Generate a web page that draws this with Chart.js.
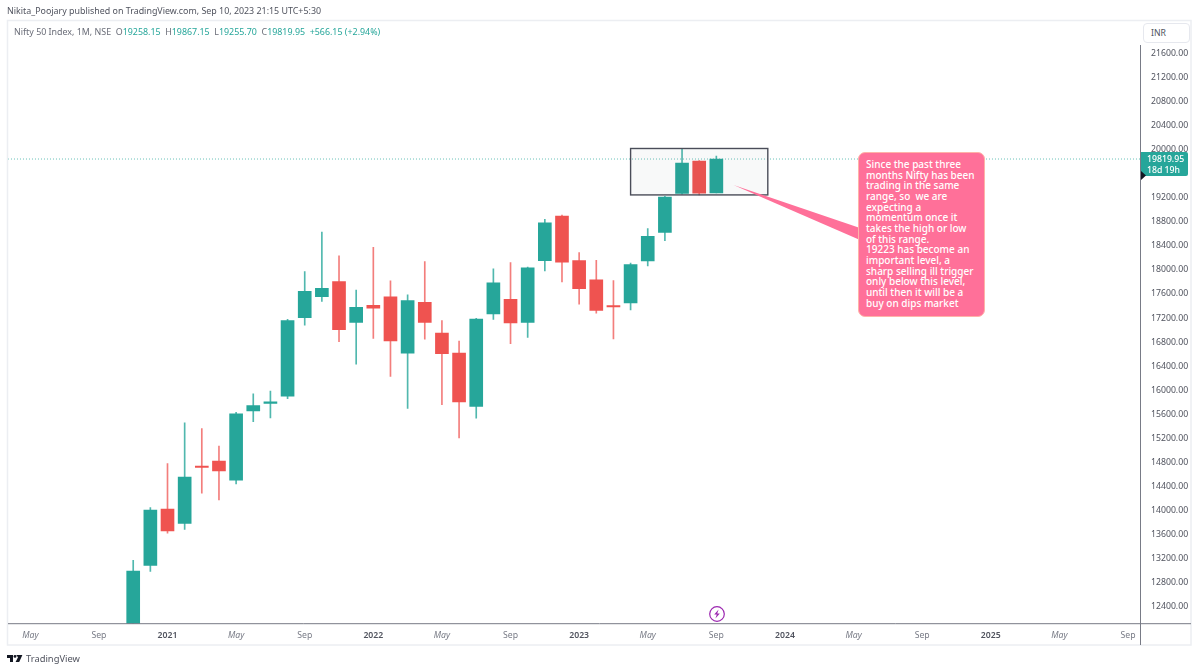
<!DOCTYPE html>
<html>
<head>
<meta charset="utf-8">
<title>Nifty 50 Index, 1M, NSE</title>
<script src="https://cdn.jsdelivr.net/npm/chart.js@4"></script>
<style>
    html, body { margin: 0; padding: 0; background: #fff; width: 1200px; height: 672px; overflow: hidden; }
    body { position: relative; font-family: "Noto Sans", sans-serif; }
    canvas { position: absolute; left: 0; top: 0; }
    .txt { position: absolute; white-space: pre; }
    #published { left: 7px; top: 4px; font-size: 8.9px; line-height: 14px; color: #50535e; }
    #legend { left: 14px; top: 25px; font-size: 8.9px; line-height: 14px; color: #6a6d78; }
    #legend b { font-weight: normal; color: #26a69a; }
    #inr { left: 1143px; top: 23px; width: 45px; height: 18px; border: 1px solid #e6e8ee; border-radius: 4px; background: #fff;
           font-size: 8.7px; line-height: 18px; color: #50535e; text-indent: 7px; }
    #price { left: 1141px; top: 152px; width: 47px; height: 24px; background: #26a69a; color: #fff; border-radius: 0 2px 2px 0; }
    #price div { position: absolute; left: 6px; font-size: 8.7px; line-height: 12px; font-weight: 500; }
    #note { left: 858px; top: 152px; width: 125px; height: 163px; padding: 0; background: #ff7099; border: 1px solid #ffb3a8; border-radius: 7px; }
    #note div { position: absolute; left: 7px; top: 6px; color: #fff; font-size: 10px; line-height: 10.67px; font-weight: 500; }
    #brand { left: 26px; top: 652px; font-size: 9.4px; line-height: 14px; color: #50535e; }
    svg { position: absolute; }
</style>
</head>
<body>
<canvas id="chart" width="1200" height="672"></canvas>
<div class="txt" id="published">Nikita_Poojary published on TradingView.com, Sep 10, 2023 21:15 UTC+5:30</div>
<div class="txt" id="legend">Nifty 50 Index, 1M, NSE  O<b>19258.15</b>  H<b>19867.15</b>  L<b>19255.70</b>  C<b>19819.95</b>  <b>+566.15 (+2.94%)</b></div>
<div class="txt" id="inr">INR</div>
<div class="txt" id="price"><div style="top:1px">19819.95</div><div style="top:12px">18d 19h</div></div>
<svg style="left:1141px;top:171px" width="6" height="9"><path d="M0 0L5 4.5L0 9Z" fill="#131722"/></svg>
<div class="txt" id="note"><div>Since the past three
months Nifty has been
trading in the same
range, so  we are
expecting a
momentum once it
takes the high or low
of this range.
19223 has become an
important level, a
sharp selling ill trigger
only below this level,
until then it will be a
buy on dips market</div></div>
<svg style="left:708px;top:605px" width="18" height="18" viewBox="0 0 18 18">
    <circle cx="9" cy="9" r="7.3" fill="#fff" stroke="#9c27b0" stroke-width="1.2"/>
    <path d="M10.6 4.6L6.2 9.6H8.8L7.4 13.4L11.8 8.4H9.2Z" fill="#9c27b0"/>
</svg>
<svg style="left:7px;top:655px" width="16" height="7" viewBox="0 0 16 7">
    <path d="M0 0H6V7H3V3H0Z M9.2 0H15.4L12.2 7H8.6L11 2.2Z" fill="#131722"/><circle cx="8" cy="1.4" r="1.4" fill="#131722"/>
</svg>
<div class="txt" id="brand">TradingView</div>
<script>
// axis labels, one every 4 months starting May 2020
const tickLabels = ['May','Sep','2021','May','Sep','2022','May','Sep','2023','May','Sep','2024','May','Sep','2025','May','Sep'];
// 19600 is hidden behind the price tag in the picture
const priceTicks = [12400,12800,13200,13600,14000,14400,14800,15200,15600,16000,16400,16800,17200,17600,18000,18400,18800,19200,20000,20400,20800,21200,21600];
const firstCandle = 6; // Nov 2020 is 6 months after the first label

const months = ['Nov 2020','Dec 2020','Jan 2021','Feb 2021','Mar 2021','Apr 2021','May 2021','Jun 2021','Jul 2021','Aug 2021','Sep 2021','Oct 2021','Nov 2021','Dec 2021',
    'Jan 2022','Feb 2022','Mar 2022','Apr 2022','May 2022','Jun 2022','Jul 2022','Aug 2022','Sep 2022','Oct 2022','Nov 2022','Dec 2022',
    'Jan 2023','Feb 2023','Mar 2023','Apr 2023','May 2023','Jun 2023','Jul 2023','Aug 2023','Sep 2023'];
const opens  = [11697,13062,13997,13758,14702,14798,14481,15630,15755,15874,17183,17532,17783,17104,17388,17529,16593,17436,16925,16594,15704,17243,17486,17102,18130,18871,18131,17811,17360,17427,18124,18600,19246,19784,19258.15];
const highs  = [13145,14025,14753,15431,15336,15044,15606,15915,15962,17153,17947,18604,18210,17640,18350,17794,17560,18115,17132,16793,17172,17992,18096,18022,18816,18887,18265,18134,17799,18089,18662,19201,19992,19796,19867.15];
const lows   = [11557,12962,13596,13661,14264,14151,14416,15450,15513,15834,17055,17452,16782,16410,16836,16203,15671,16824,15735,15183,15511,17154,16748,16855,17959,17774,17405,17255,16828,17312,18043,18464,19235,19223,19255.70];
const closes = [12968,13982,13634,14529,14690,14631,15582,15721,15763,17132,17618,17671,16983,17354,17340,16794,17464,17102,16584,15780,17158,17759,17094,18012,18758,18105,17662,17304,17359,18065,18534,19189,19754,19254,19819.95];
const lastClose = 19819.95;

// range box drawn on the chart, in month index / price
const rangeBox = { from: 35, to: 43, top: 19995, bottom: 19223 };
const noteTip = { x: 41, y: 19390 };

const UP = '#26a69a', DOWN = '#ef5350';
const UP_WICK = 'rgba(38,166,154,0.8)', DOWN_WICK = 'rgba(239,83,80,0.75)';
const isUp = i => closes[i] >= opens[i];
const xOf = i => firstCandle + i;
const tickText = c => (c.tick ? tickLabels[c.tick.value / 4] : '') || '';

const overlays = {
    id: 'overlays',
    afterDatasetsDraw(chart) {
        const { ctx, scales: { x, y }, chartArea } = chart;
        ctx.save();
        // range box
        const bx = x.getPixelForValue(rangeBox.from), bx2 = x.getPixelForValue(rangeBox.to);
        const by = y.getPixelForValue(rangeBox.top), by2 = y.getPixelForValue(rangeBox.bottom);
        ctx.fillStyle = 'rgba(70,110,90,0.04)';
        ctx.fillRect(bx, by, bx2 - bx, by2 - by);
        ctx.strokeStyle = '#4a4d59';
        ctx.lineWidth = 1.4;
        ctx.strokeRect(bx, by, bx2 - bx, by2 - by);
        // callout tail
        ctx.fillStyle = '#ff7099';
        ctx.beginPath();
        ctx.moveTo(x.getPixelForValue(noteTip.x), y.getPixelForValue(noteTip.y));
        ctx.lineTo(860, 228);
        ctx.lineTo(860, 240);
        ctx.closePath();
        ctx.fill();
        // axis lines and outer frame
        ctx.strokeStyle = '#eceef2';
        ctx.lineWidth = 1.5;
        ctx.strokeRect(7.5, 20.5, 1183.5, 624.5);
        ctx.strokeStyle = '#787b86';
        ctx.lineWidth = 1;
        ctx.beginPath();
        ctx.moveTo(chartArea.right, 45); ctx.lineTo(chartArea.right, 645);
        ctx.moveTo(8, chartArea.bottom); ctx.lineTo(1191, chartArea.bottom);
        ctx.stroke();
        ctx.restore();
    }
};

new Chart(document.getElementById('chart'), {
    type: 'bar',
    data: {
        datasets: [
            {
                label: 'Wicks',
                data: months.map((m, i) => ({ x: xOf(i), y: [lows[i], highs[i]] })),
                backgroundColor: months.map((m, i) => isUp(i) ? UP_WICK : DOWN_WICK),
                barThickness: 1,
                grouped: false,
                order: 2
            },
            {
                label: 'Bodies',
                data: months.map((m, i) => ({ x: xOf(i), y: [opens[i], closes[i]] })),
                backgroundColor: months.map((m, i) => isUp(i) ? UP : DOWN),
                barThickness: 13,
                minBarLength: 1.5,
                grouped: false,
                order: 1
            },
            {
                type: 'line',
                label: 'Last',
                data: [{ x: -2, y: lastClose }, { x: 66, y: lastClose }],
                borderColor: 'rgba(38,166,154,0.7)',
                borderWidth: 1,
                borderDash: [1, 2],
                pointRadius: 0,
                order: 3
            }
        ]
    },
    options: {
        responsive: false,
        animation: false,
        layout: { padding: { left: 8, top: 20, right: 0, bottom: 0 } },
        plugins: { legend: { display: false }, tooltip: { enabled: false } },
        scales: {
            x: {
                type: 'linear',
                offset: false,
                min: -1.3,
                max: 64.73,
                grid: { display: false },
                border: { display: false },
                afterFit(scale) { scale.height = 48.3; },
                ticks: {
                    stepSize: 4,
                    includeBounds: false,
                    autoSkip: false,
                    maxRotation: 0,
                    padding: -1,
                    callback: v => tickLabels[v / 4],
                    color: c => /^\d/.test(tickText(c)) ? '#50535e' : '#787b86',
                    font: c => {
                        const t = tickText(c);
                        return { family: '"Noto Sans"', size: 8.7, style: t === 'May' ? 'italic' : 'normal', weight: /^\d/.test(t) ? '600' : 'normal' };
                    }
                }
            },
            y: {
                position: 'right',
                min: 12092,
                max: 22132,
                grid: { display: false },
                border: { display: false },
                afterFit(scale) { scale.width = 59.5; },
                afterBuildTicks(scale) { scale.ticks = priceTicks.map(value => ({ value })); },
                ticks: {
                    autoSkip: false,
                    padding: 2.5,
                    labelOffset: 1.5,
                    color: '#50535e',
                    font: { family: '"Noto Sans"', size: 8.7 },
                    callback: v => v.toFixed(2)
                }
            }
        }
    },
    plugins: [overlays]
});
</script>
</body>
</html>
